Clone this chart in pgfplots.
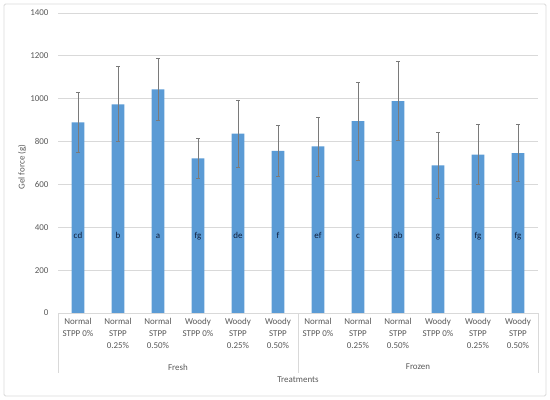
\documentclass[border=0pt]{standalone}
\usepackage{pgfplots}
\pgfplotsset{compat=1.18}
\usepackage{pgfplotstable}
\usepackage{fontspec}
\setmainfont{Carlito}
\definecolor{barblue}{HTML}{5B9BD5}
\definecolor{txtgray}{HTML}{595959}
\definecolor{gridgray}{HTML}{D9D9D9}
\definecolor{errgray}{HTML}{7A7A7A}
\definecolor{lettercol}{HTML}{0F1E3C}

\pgfplotstableread{
x y e
0 889 141
1 974 175
2 1043 144
3 721 94
4 837 157
5 756 118
6 777 138
7 895 182
8 989 185
9 689 152
10 739 141
11 746 133
}\gel

\begin{document}
\begin{tikzpicture}
\useasboundingbox (0,0) rectangle (550bp,400bp);
\draw[gridgray, line width=0.8bp, rounded corners=1.5bp] (4bp,4bp) rectangle (546bp,396bp);
\begin{axis}[
  at={(58bp,87bp)}, anchor=south west,
  scale only axis, width=480bp, height=300bp,
  xmin=-0.5, xmax=11.5, ymin=0, ymax=1400,
  ytick={0,200,...,1400},
  xtick={0,...,11},
  xticklabels={{Normal\\STPP 0\%},{Normal\\STPP\\0.25\%},{Normal\\STPP\\0.50\%},{Woody\\STPP 0\%},{Woody\\STPP\\0.25\%},{Woody\\STPP\\0.50\%},{Normal\\STPP 0\%},{Normal\\STPP\\0.25\%},{Normal\\STPP\\0.50\%},{Woody\\STPP 0\%},{Woody\\STPP\\0.25\%},{Woody\\STPP\\0.50\%}},
  axis line style={draw=none},
  major tick length=0,
  ymajorgrids, grid style={gridgray, line width=0.8bp},
  tick label style={font=\fontsize{9}{11}\selectfont, text=txtgray},
  x tick label style={align=center, font=\fontsize{9}{12}\selectfont, anchor=north, yshift=-2bp},
  y tick label style={xshift=-6bp},
  /pgf/number format/assume math mode=true,
  /pgf/number format/1000 sep={},
  scaled y ticks=false,
  clip=false,
]
\addplot[ybar, bar width=12.7bp, fill=barblue, draw=none,
  error bars/.cd, y dir=both, y explicit,
  error bar style={errgray, line width=0.8bp},
  error mark options={rotate=90, errgray, mark size=1.6bp, line width=0.8bp}]
  table[x=x, y=y, y error=e] {\gel};
\draw[gridgray, line width=0.8bp] (axis cs:-0.5,0) -- (axis cs:11.5,0);
\draw[gridgray, line width=0.8bp] (axis cs:-0.5,0) -- ([yshift=-60bp]axis cs:-0.5,0);
\draw[gridgray, line width=0.8bp] (axis cs:5.5,0) -- ([yshift=-60bp]axis cs:5.5,0);
\draw[gridgray, line width=0.8bp] (axis cs:11.5,0) -- ([yshift=-60bp]axis cs:11.5,0);
\node[text=txtgray, font=\fontsize{9}{11}\selectfont] at ([yshift=-54bp]axis cs:2.5,0) {Fresh};
\node[text=txtgray, font=\fontsize{9}{11}\selectfont] at ([yshift=-54bp]axis cs:8.5,0) {Frozen};
\node[text=txtgray, font=\fontsize{9}{11}\selectfont] at ([yshift=-67bp]axis cs:5.5,0) {Treatments};
\begin{scope}[every node/.style={anchor=base, text=lettercol, font=\fontsize{9}{11}\selectfont, inner sep=0pt}]
\node at (axis cs:0,350) {cd};
\node at (axis cs:1,350) {b};
\node at (axis cs:2,350) {a};
\node at (axis cs:3,350) {fg};
\node at (axis cs:4,350) {de};
\node at (axis cs:5,350) {f};
\node at (axis cs:6,350) {ef};
\node at (axis cs:7,350) {c};
\node at (axis cs:8,350) {ab};
\node at (axis cs:9,350) {g};
\node at (axis cs:10,350) {fg};
\node at (axis cs:11,350) {fg};
\end{scope}
\end{axis}
\node[rotate=90, text=txtgray, font=\fontsize{9}{11}\selectfont] at (22bp,233bp) {Gel force (g)};
\end{tikzpicture}
\end{document}
